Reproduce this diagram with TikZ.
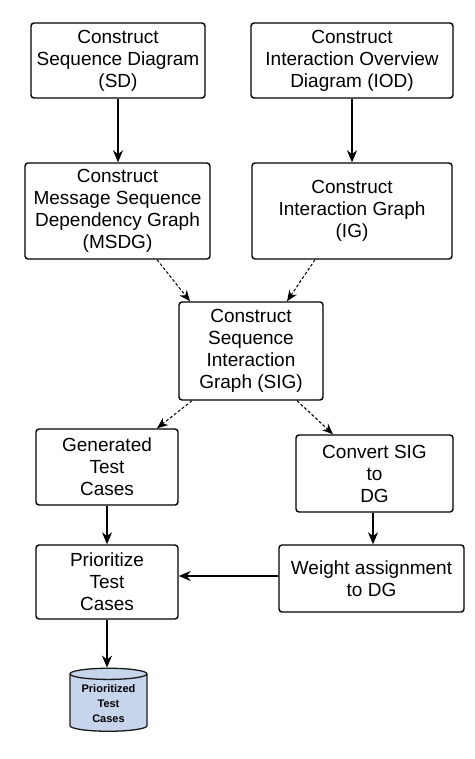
\documentclass[tikz,border=0pt]{standalone}
\usepackage{fontspec}
\setmainfont{Liberation Sans}
\usetikzlibrary{shapes.geometric,arrows.meta}
\definecolor{dbfill}{HTML}{C6D4EC}
\definecolor{dbline}{HTML}{1A1A1A}
\tikzset{
  box/.style={draw, line width=1.4pt, rounded corners=3pt, align=center,
    inner sep=2pt, font=\fontsize{19}{22}\selectfont},
  solidarrow/.style={line width=1.5pt, -{Stealth[length=12pt,width=10pt]}},
  dasharrow/.style={line width=1pt, dash pattern=on 3pt off 2pt, -{Stealth[length=11pt,width=9pt]}},
  db/.style={draw=dbline, fill=dbfill, line width=1.3pt, shape=cylinder, shape border rotate=90,
    aspect=0.2, minimum width=77pt, minimum height=63pt, align=center, inner sep=1pt,
    font=\bfseries\fontsize{11}{15}\selectfont}
}
\begin{document}
\begin{tikzpicture}[x=1pt,y=-1pt]
\useasboundingbox (0,0) rectangle (474,759);
\node[box, minimum width=174pt, minimum height=75pt] (SD) at (118,60.5) {Construct\\Sequence Diagram\\(SD)};
\node[box, minimum width=202pt, minimum height=75pt] (IOD) at (352,60.5) {Construct\\Interaction Overview\\Diagram (IOD)};
\node[box, minimum width=185pt, minimum height=96pt] (MSDG) at (117.5,211) {Construct\\Message Sequence\\Dependency Graph\\(MSDG)};
\node[box, minimum width=200pt, minimum height=96pt] (IG) at (352,211) {Construct\\Interaction Graph\\(IG)};
\node[box, minimum width=144pt, minimum height=98pt] (SIG) at (251,351) {Construct\\Sequence\\Interaction\\Graph (SIG)};
\node[box, minimum width=142pt, minimum height=76pt] (GEN) at (107,467) {Generated\\Test\\Cases};
\node[box, minimum width=157pt, minimum height=77pt] (CONV) at (374.5,473.5) {Convert SIG\\to\\DG};
\node[box, minimum width=142pt, minimum height=74pt] (PRIO) at (107,582) {Prioritize\\Test\\Cases};
\node[box, minimum width=185pt, minimum height=67pt] (WT) at (371.5,578.5) {Weight assignment\\to DG};
\node[db] (DB) at (108.5,703.5) {Prioritized\\Test\\Cases};
\draw[solidarrow] (SD.south) -- (SD.south |- MSDG.north);
\draw[solidarrow] (IOD.south) -- (IOD.south |- IG.north);
\draw[dasharrow] ([xshift=39.5pt]MSDG.south) -- ([xshift=-61pt]SIG.north);
\draw[dasharrow] ([xshift=-37pt]IG.south) -- ([xshift=36pt]SIG.north);
\draw[dasharrow] ([xshift=-59pt]SIG.south) -- ([xshift=50pt]GEN.north);
\draw[dasharrow] ([xshift=46pt]SIG.south) -- ([xshift=-41.5pt]CONV.north);
\draw[solidarrow] (GEN.south) -- (PRIO.north);
\draw[solidarrow] ([xshift=-1.5pt]CONV.south) -- ([xshift=1.5pt]WT.north);
\draw[solidarrow] ([yshift=2.5pt]WT.west) -- ([yshift=2.5pt]WT.west -| PRIO.east);
\draw[solidarrow] (PRIO.south) -- (PRIO.south |- DB.north);
\end{tikzpicture}
\end{document}
